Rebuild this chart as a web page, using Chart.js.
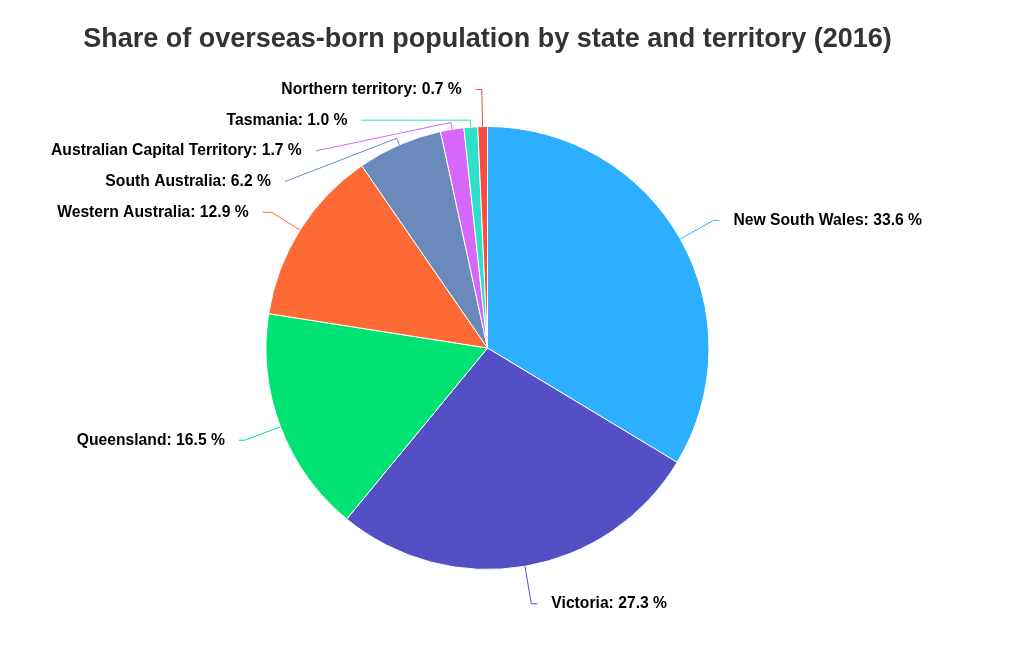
<!DOCTYPE html>
<html>
<head>
<meta charset="utf-8">
<script src="https://cdn.jsdelivr.net/npm/chart.js@4.4.0/dist/chart.umd.min.js"></script>
<style>
html, body { margin: 0; padding: 0; background: #fff; }
#wrap { width: 1024px; height: 657px; }
</style>
</head>
<body>
<div id="wrap"><canvas id="chartPie"></canvas></div>
<script>
const states = ['New South Wales', 'Victoria', 'Queensland', 'Western Australia', 'South Australia',
    'Australian Capital Territory', 'Tasmania', 'Northern territory'];
const shares = [33.6, 27.3, 16.5, 12.9, 6.2, 1.7, 1.0, 0.7];
const colours = ['#2caffe', '#544fc5', '#00e272', '#fe6a35', '#6b8abc', '#d568fb', '#2ee0ca', '#fa4b42'];

const labelFont = 'bold 15.7px "Liberation Sans", Arial, sans-serif';
const labelGap = 30.7;

// spread labels on one side so they don't overlap (cluster merging)
function spread(items, minY, maxY) {
    let boxes = items.map(it => ({ items: [it] }));
    const place = b => {
        const n = b.items.length;
        const mean = b.items.reduce((s, it) => s + it.ny, 0) / n;
        let top = mean - (n - 1) * labelGap / 2;
        top = Math.max(minY, Math.min(top, maxY - (n - 1) * labelGap));
        b.top = top;
    };
    let merged = true;
    while (merged) {
        merged = false;
        boxes.forEach(place);
        for (let k = 0; k < boxes.length - 1; k++) {
            const a = boxes[k], b = boxes[k + 1];
            if (a.top + a.items.length * labelGap > b.top) {
                boxes.splice(k, 2, { items: a.items.concat(b.items) });
                merged = true;
                break;
            }
        }
    }
    boxes.forEach(b => b.items.forEach((it, j) => { it.y = b.top + j * labelGap; }));
}

const pieLabels = {
    id: 'pieLabels',
    afterDatasetsDraw(chart) {
        const ctx = chart.ctx;
        const arcs = chart.getDatasetMeta(0).data;
        const items = arcs.map((arc, i) => {
            const mid = (arc.startAngle + arc.endAngle) / 2;
            const ux = Math.cos(mid), uy = Math.sin(mid);
            const R = arc.outerRadius + 36;
            return { i, ux, uy, cx: arc.x, cy: arc.y, r: arc.outerRadius, R, left: ux < 0,
                ny: arc.y + (arc.outerRadius + 38) * uy };
        });
        [true, false].forEach(side => {
            const list = items.filter(it => it.left === side).sort((a, b) => a.ny - b.ny);
            if (list.length) spread(list, list[0].cy - list[0].R - 1, list[0].cy + list[0].R + 2);
        });

        ctx.save();
        ctx.font = labelFont;
        ctx.textBaseline = 'middle';
        items.forEach(it => {
            const ex = it.cx + it.r * it.ux, ey = it.cy + it.r * it.uy;
            let d = Math.abs(it.uy) > 0.05 ? (it.y - ey) / it.uy : 7;
            if (d <= 0 || d > 45) d = 7;
            const bx = ex + d * it.ux, by = ey + d * it.uy;
            const s = Math.max(-1, Math.min(1, (it.y - it.cy) / it.R));
            const gx = it.cx + (it.left ? -1 : 1) * Math.cos(Math.asin(s)) * it.R;
            const ax = it.left ? Math.min(gx, bx) - 6 : Math.max(gx, bx) + 6;

            ctx.strokeStyle = colours[it.i];
            ctx.lineWidth = 1;
            ctx.beginPath();
            ctx.moveTo(ax, it.y);
            ctx.lineTo(bx, by);
            ctx.lineTo(ex, ey);
            ctx.stroke();

            const text = states[it.i] + ': ' + shares[it.i].toFixed(1) + ' %';
            const tx = it.left ? ax - 14 : ax + 14;
            ctx.textAlign = it.left ? 'right' : 'left';
            ctx.lineJoin = 'round';
            ctx.lineWidth = 2;
            ctx.strokeStyle = '#ffffff';
            ctx.strokeText(text, tx, it.y);
            ctx.fillStyle = '#000000';
            ctx.fillText(text, tx, it.y);
        });
        ctx.restore();
    }
};

const ctxPie = document.getElementById('chartPie').getContext('2d');
new Chart(ctxPie, {
    type: 'pie',
    data: {
        labels: states,
        datasets: [{
            data: shares,
            backgroundColor: colours,
            borderColor: '#ffffff',
            borderWidth: 1,
            hoverOffset: 0
        }]
    },
    options: {
        responsive: true,
        maintainAspectRatio: false,
        animation: false,
        events: [],
        layout: { padding: { left: 0, right: 49, top: 0, bottom: 87 } },
        plugins: {
            legend: { display: false },
            tooltip: { enabled: false },
            title: {
                display: true,
                text: 'Share of overseas-born population by state and territory (2016)',
                color: '#333333',
                font: { family: '"Liberation Sans", Arial, sans-serif', size: 27, weight: 'bold' },
                padding: { top: 23, bottom: 70.6 }
            }
        }
    },
    plugins: [pieLabels]
});
</script>
</body>
</html>
